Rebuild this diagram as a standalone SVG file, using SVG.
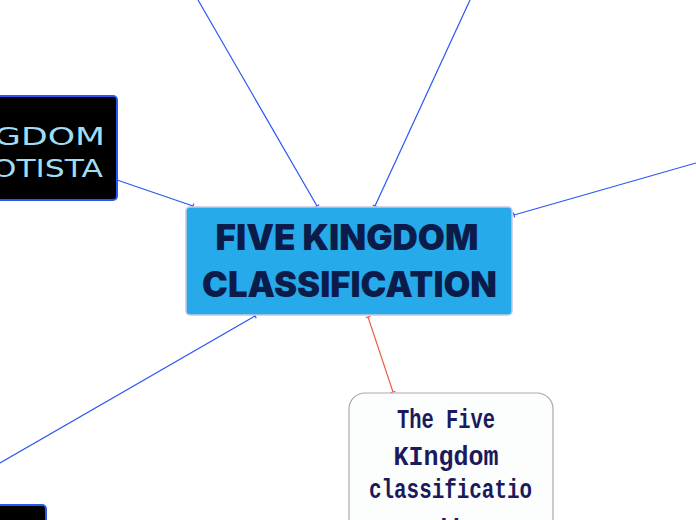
<svg xmlns="http://www.w3.org/2000/svg" width="696" height="520" viewBox="0 0 696 520">
<style>
.blue{stroke:#2a56f5;stroke-width:1.2;fill:none}
.red{stroke:#ee5a48;stroke-width:1.2;fill:none}
.dark{fill:#000;stroke:#2a56f5;stroke-width:2}
.title{font-family:Inter,"Open Sans",sans-serif;font-weight:900;font-size:35px;fill:#0b1c4a;text-anchor:middle}
.wide{font-family:"DejaVu Sans",sans-serif;font-size:24px;fill:#9fdcf5;text-anchor:end}
.note{font-family:"Liberation Mono","DejaVu Sans Mono",monospace;font-weight:bold;font-size:27px;fill:#1a1a5c;text-anchor:middle}
</style>
<defs>
<marker id="tb" markerWidth="6" markerHeight="6" refX="3" refY="3" orient="auto" markerUnits="userSpaceOnUse">
<path d="M3,0.5 V5.5" stroke="#2a56f5" stroke-width="1.2"/>
</marker>
<marker id="tr" markerWidth="6" markerHeight="6" refX="3" refY="3" orient="auto" markerUnits="userSpaceOnUse">
<path d="M3,0.5 V5.5" stroke="#ee5a48" stroke-width="1.2"/>
</marker>
</defs>
<rect width="696" height="520" fill="#fff"/>
<g id="connectors">
<line class="blue" x1="117" y1="180" x2="193" y2="206" marker-start="url(#tb)" marker-end="url(#tb)"/>
<line class="blue" x1="198" y1="0" x2="317" y2="206" marker-end="url(#tb)"/>
<line class="blue" x1="470" y1="0" x2="375" y2="206" marker-end="url(#tb)"/>
<line class="blue" x1="696" y1="163" x2="514" y2="215" marker-end="url(#tb)"/>
<line class="blue" x1="255" y1="316" x2="0" y2="463" marker-start="url(#tb)"/>
<line class="red" x1="368" y1="317" x2="393" y2="392" marker-start="url(#tr)" marker-end="url(#tr)"/>
</g>
<g id="node-protista">
<rect class="dark" x="-80" y="96" width="197" height="104" rx="4"/>
<text class="wide" x="105" y="145" textLength="170" lengthAdjust="spacingAndGlyphs">KINGDOM</text>
<text class="wide" x="103" y="177" textLength="152" lengthAdjust="spacingAndGlyphs">PROTISTA</text>
</g>
<g id="node-center">
<rect x="186" y="207" width="326" height="108" rx="4" fill="#27aae9" stroke="#c9c6e2" stroke-width="1.5"/>
<text class="title" x="347" y="250" textLength="263" lengthAdjust="spacingAndGlyphs">FIVE KINGDOM</text>
<text class="title" x="349.5" y="297" textLength="295" lengthAdjust="spacingAndGlyphs">CLASSIFICATION</text>
</g>
<g id="node-bottom-left">
<rect class="dark" x="-60" y="505" width="106" height="60" rx="4"/>
</g>
<g id="node-note">
<rect x="349" y="393" width="204" height="160" rx="16" fill="#fcfdfd" stroke="#aaaaaa" stroke-width="1.2"/>
<text class="note" x="446" y="428" textLength="98" lengthAdjust="spacingAndGlyphs">The Five</text>
<text class="note" x="446" y="465" textLength="105" lengthAdjust="spacingAndGlyphs">KIngdom</text>
<text class="note" x="450.5" y="498" textLength="163" lengthAdjust="spacingAndGlyphs">classificatio</text>
<text class="note" x="450" y="536">n Was</text>
</g>
</svg>
